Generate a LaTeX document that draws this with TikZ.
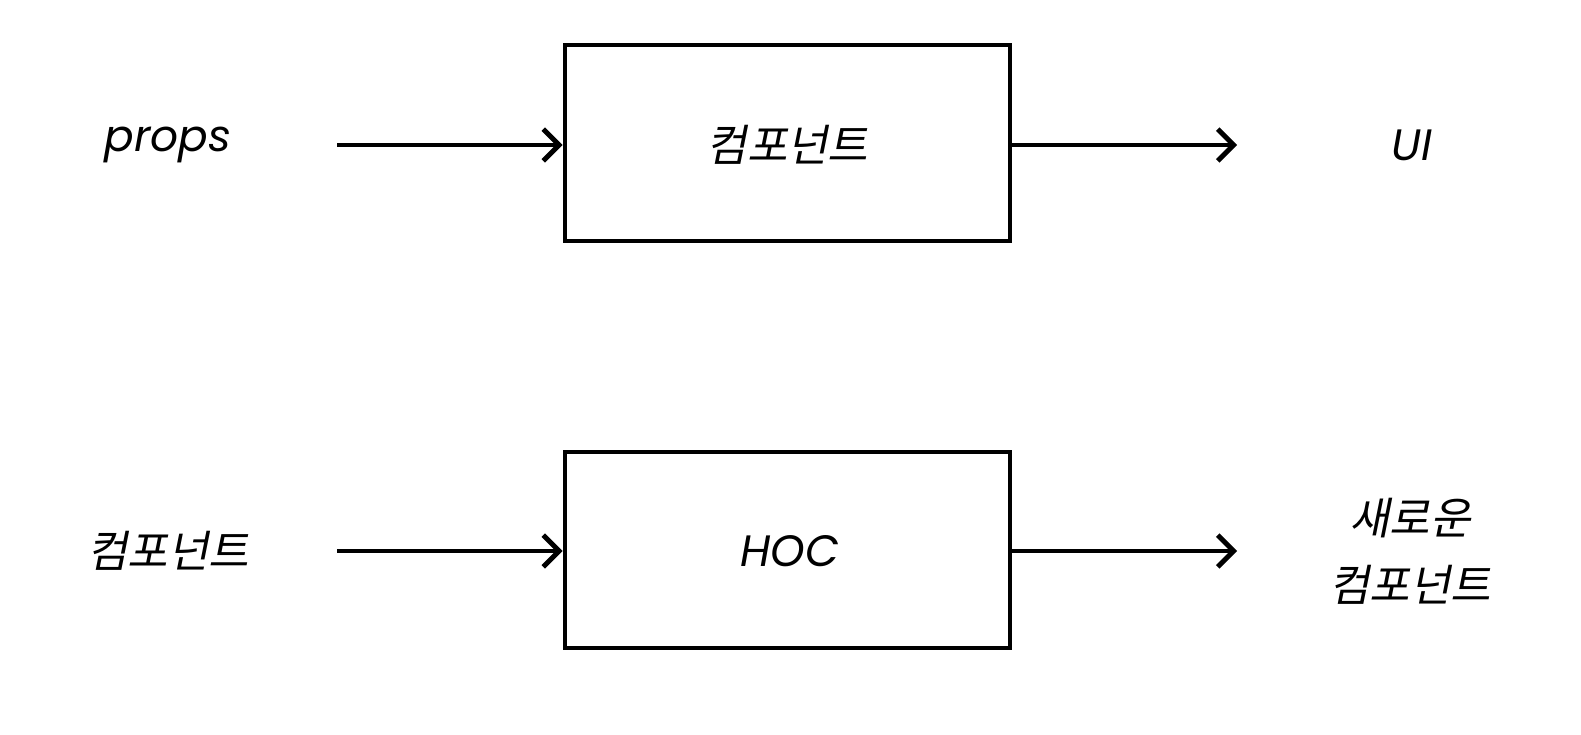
\documentclass[tikz,border=0pt]{standalone}
\usepackage{fontspec}
\setmainfont{Poppins}
\newfontfamily\kr[FakeSlant=0.2]{Noto Sans CJK KR}
\usetikzlibrary{arrows.meta}
\begin{document}
\begin{tikzpicture}[x=0.02cm,y=-0.02cm,
  box/.style={draw,line width=2.8pt,minimum width=445*0.02cm,minimum height=196*0.02cm,inner sep=0},
  arr/.style={line width=2.8pt,-{Straight Barb[length=9pt,width=18pt,line width=2.8pt]}},
  lbl/.style={font=\fontsize{25}{30}\selectfont\itshape},
  klbl/.style={font=\kr\fontsize{25}{38}\selectfont,align=center}]
\useasboundingbox (0,0) rectangle (1581,734);
\node[box] (b1) at (787.5,143) {};
\node[klbl] at (787.5,145) {컴포넌트};
\node[box] (b2) at (787.5,550) {};
\node[lbl] at (790,551) {HOC};
\node[lbl] (props) at (168,145) {props};
\node[lbl] (ui) at (1412,145) {UI};
\node[klbl] (c1) at (168,551) {컴포넌트};
\node[klbl] (c2) at (1410,551) {새로운\\컴포넌트};
\coordinate (a1) at (337,145); \coordinate (a2) at (1237,145);
\coordinate (a3) at (337,551); \coordinate (a4) at (1237,551);
\draw[arr] (a1) -- (b1.west |- a1);
\draw[arr] (b1.east |- a2) -- (a2);
\draw[arr] (a3) -- (b2.west |- a3);
\draw[arr] (b2.east |- a4) -- (a4);
\end{tikzpicture}
\end{document}
